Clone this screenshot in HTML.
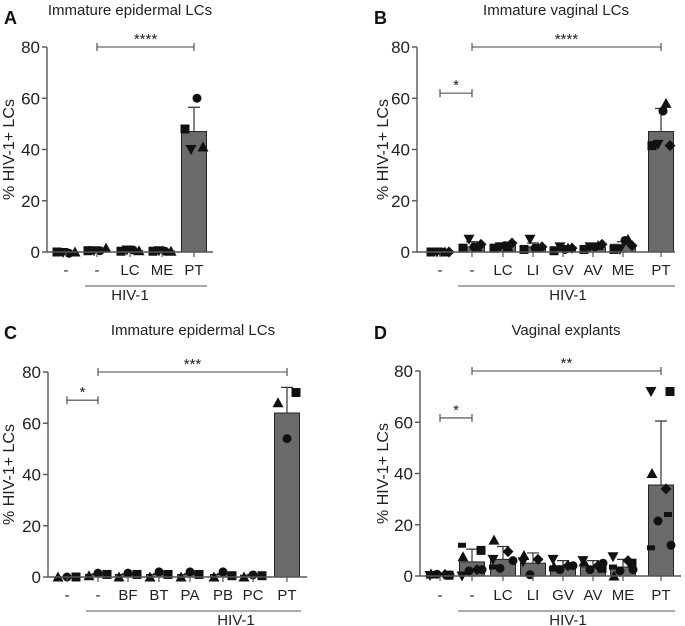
<!DOCTYPE html>
<html><head><meta charset="utf-8">
<style>
body{margin:0;background:#fff;}
svg{display:block;font-family:"Liberation Sans",Arial,sans-serif;}
</style></head>
<body>
<svg id="fig" width="685" height="626" viewBox="0 0 685 626" xmlns="http://www.w3.org/2000/svg"></svg>
<script>
// ---------- data ----------
const catsA = ["-","-","LC","ME","PT"];
const meanA = [0,0.8,0.5,0.4,47];
const errA  = [0,1.2,0.8,0.5,56.5];
const ptsA_square = [0,0.5,0.3,0.3,48];
const ptsA_down   = [-0.2,0.5,0.8,0.5,40];
const ptsA_up     = [0,1.5,0.5,0.3,41];
const ptsA_circle = [-0.5,0.5,0.8,0.3,60];

const catsB = ["-","-","LC","LI","GV","AV","ME","PT"];
const meanB = [0,2,2.5,2,1,1.8,3,47];
const errB  = [0,4,3.5,3.5,2.5,2.5,4,56];
const ptsB_square  = [0,1.5,1.5,1,0.5,1,1,41.5];
const ptsB_down    = [0,5,2,5,2,2,1,42];
const ptsB_circle  = [0,2,2.5,1.5,1,2,4.5,55];
const ptsB_diamond = [0,3,3.5,2,1.5,3,2.5,41.5];
const ptsB_up      = [0,2,2,1.5,1.5,2.5,5,58];

const catsC = ["-","-","BF","BT","PA","PB","PC","PT"];
const meanC = [0,1,1,1,1,1,0.7,64];
const errC  = [0,1.3,1.3,1.3,1.3,1.3,1,74];
const ptsC_up     = [0,0.5,0,0,0,0,0,68];
const ptsC_circle = [0,1.5,1.5,2,2,2,0.8,54];
const ptsC_square = [0,1,1,1,1,0.5,0.5,72];

const catsD = ["-","-","LC","LI","GV","AV","ME","PT"];
const meanD = [0.5,5.5,6.5,5,4,3.5,3.5,35.5];
const errD  = [1,10.5,11.5,9,6,6,6.5,60.5];
const ptsD_down    = [0.2,0,6.5,5.5,6.5,6,7.5,72];
const ptsD_up      = [0.8,7.5,14,8,3.5,5.5,0,40];
const ptsD_rect    = [0.5,12,3.5,null,3,null,3.5,11];
const ptsD_circle  = [0.7,2,3,0.5,2.5,2.5,2,21.5];
const ptsD_square  = [0.3,10,null,null,null,3,5,72];
const ptsD_diamond = [0.6,2.5,9.5,6.5,4,4,6,34];
const ptsD_circle2 = [0.4,2.5,6,null,4,5,2.5,12];
const ptsD_rect2   = [null,null,null,null,null,null,null,24];

const yTicks = [0,20,40,60,80];

// ---------- drawing ----------
const NS="http://www.w3.org/2000/svg";
const svg=document.getElementById('fig');
function mk(tag,attrs,parent){const e=document.createElementNS(NS,tag);for(const k in attrs)e.setAttribute(k,attrs[k]);(parent||svg).appendChild(e);return e;}
function txt(s,attrs,parent){const e=mk('text',attrs,parent);e.textContent=s;return e;}

function marker(g,shape,cx,cy){
  const r=4.5;let e;
  if(shape==='circle'){e=mk('circle',{cx:cx,cy:cy,r:r,fill:'#111'},g);}
  else if(shape==='square'){e=mk('rect',{x:cx-r,y:cy-r,width:2*r,height:2*r,fill:'#111'},g);}
  else if(shape==='rect'){e=mk('rect',{x:cx-4,y:cy-2.5,width:8,height:5,fill:'#111'},g);}
  else if(shape==='up'){e=mk('polygon',{points:`${cx},${cy-r-1} ${cx-r-1},${cy+r} ${cx+r+1},${cy+r}`,fill:'#111'},g);}
  else if(shape==='down'){e=mk('polygon',{points:`${cx},${cy+r+1} ${cx-r-1},${cy-r} ${cx+r+1},${cy-r}`,fill:'#111'},g);}
  else {e=mk('polygon',{points:`${cx},${cy-r-1} ${cx+r+1},${cy} ${cx},${cy+r+1} ${cx-r-1},${cy}`,fill:'#111'},g);}
  
  
}

function panel(p){
  const g=mk('g',{});
  
  
  const y=v=>p.y0-(v/80)*(p.y0-p.y80);
  const x=i=>p.xs[i];
  const l=txt(p.letter,{x:p.lx,y:p.ly,'font-size':18,'font-weight':'bold',fill:'#111'},g);
  
  const t=txt(p.title,{x:p.tx,y:p.ty,'font-size':15,'text-anchor':'middle',fill:'#222'},g);
  
  p.means.forEach((m,i)=>{
    const h=Math.max(y(0)-y(m),0.5);
    const b=mk('rect',{x:x(i)-p.bw/2,y:y(m),width:p.bw,height:h,fill:'#6b6b6b',stroke:'#222','stroke-width':1},g);
    
    if(p.errs[i]>m){
      const e=mk('path',{d:`M${x(i)},${y(m)}V${y(p.errs[i])}M${x(i)-6},${y(p.errs[i])}H${x(i)+6}`,stroke:'#333','stroke-width':1.2,fill:'none'},g);
      
    }
  });
  p.series.forEach(s=>{
    s.vals.forEach((v,i)=>{ if(v!==null) marker(g,s.shape,x(i)+s.dx,y(v)); });
  });
  const ax=mk('path',{d:`M${p.ax},${y(80)}V${y(0)}H${p.axEnd}`,stroke:'#555','stroke-width':1.4,fill:'none'},g);
  
  yTicks.forEach(v=>{
    mk('line',{x1:p.ax-5,x2:p.ax,y1:y(v),y2:y(v),stroke:'#555','stroke-width':1.4},g);
    const tl=txt(String(v),{x:p.ax-7,y:y(v)+6,'font-size':17,'text-anchor':'end',fill:'#222'},g);
    
  });
  p.cats.forEach((c,i)=>{
    mk('line',{x1:x(i),x2:x(i),y1:y(0),y2:y(0)+5,stroke:'#555','stroke-width':1.2},g);
    const cl=txt(c,{x:x(i),y:p.labY,'font-size':15,'text-anchor':'middle',fill:'#222'},g);
    
  });
  const yl=txt('% HIV-1+ LCs',{x:0,y:0,'font-size':16,'text-anchor':'middle',fill:'#222',transform:`translate(${p.ylx},${(y(0)+y(80))/2}) rotate(-90)`},g);
  
  const hl=mk('line',{x1:p.hx1,x2:p.hx2,y1:p.labY+11,y2:p.labY+11,stroke:'#555','stroke-width':1},g);
  
  const ht=txt('HIV-1',{x:p.htx,y:p.labY+25,'font-size':15,'text-anchor':'middle',fill:'#222'},g);
  
  p.sig.forEach(s=>{
    const yy=y(s.v),x1=x(s.a),x2=x(s.b);
    const br=mk('path',{d:`M${x1},${yy-4}V${yy+4}M${x1},${yy}H${x2}M${x2},${yy-4}V${yy+4}`,stroke:'#444','stroke-width':1.1,fill:'none'},g);
    
    const st=txt(s.t,{x:(x1+x2)/2,y:yy-3,'font-size':15,'text-anchor':'middle',fill:'#222'},g);
    
  });
}

panel({letter:'A',lx:4,ly:24,title:'Immature epidermal LCs',tx:130,ty:15,
  cats:catsA,means:meanA,errs:errA,xs:[66,97,130,162,194],bw:25,
  y0:252,y80:47,ax:47,axEnd:213,labY:275,ylx:14,hx1:85,hx2:207,htx:130,
  series:[{shape:'square',dx:-9,vals:ptsA_square},{shape:'down',dx:-3,vals:ptsA_down},{shape:'up',dx:9,vals:ptsA_up},{shape:'circle',dx:3,vals:ptsA_circle}],
  sig:[{a:1,b:4,v:80,t:'****'}]});

panel({letter:'B',lx:374,ly:24,title:'Immature vaginal LCs',tx:556,ty:15,
  cats:catsB,means:meanB,errs:errB,xs:[440,472,503,533,563,593,623,661],bw:25,
  y0:252,y80:47,ax:417,axEnd:675,labY:275,ylx:388,hx1:458,hx2:675,htx:568,
  series:[{shape:'square',dx:-9,vals:ptsB_square},{shape:'down',dx:-3,vals:ptsB_down},{shape:'circle',dx:2,vals:ptsB_circle},{shape:'diamond',dx:9,vals:ptsB_diamond},{shape:'up',dx:5,vals:ptsB_up}],
  sig:[{a:0,b:1,v:62,t:'*'},{a:1,b:7,v:80,t:'****'}]});

panel({letter:'C',lx:4,ly:339,title:'Immature epidermal LCs',tx:193,ty:335,
  cats:catsC,means:meanC,errs:errC,xs:[67,98,128,159,190,223,253,287],bw:25,
  y0:577,y80:372,ax:48,axEnd:307,labY:600,ylx:14,hx1:86,hx2:301,htx:236,
  series:[{shape:'up',dx:-9,vals:ptsC_up},{shape:'circle',dx:0,vals:ptsC_circle},{shape:'square',dx:9,vals:ptsC_square}],
  sig:[{a:0,b:1,v:69,t:'*'},{a:1,b:7,v:80,t:'***'}]});

panel({letter:'D',lx:374,ly:339,title:'Vaginal explants',tx:566,ty:335,
  cats:catsD,means:meanD,errs:errD,xs:[440,472,503,533,563,593,623,661],bw:25,
  y0:576,y80:371,ax:420,axEnd:681,labY:600,ylx:388,hx1:458,hx2:675,htx:568,
  series:[{shape:'down',dx:-10,vals:ptsD_down},{shape:'up',dx:-9,vals:ptsD_up},{shape:'rect',dx:-10,vals:ptsD_rect},{shape:'circle',dx:-3,vals:ptsD_circle},{shape:'square',dx:9,vals:ptsD_square},{shape:'diamond',dx:5,vals:ptsD_diamond},{shape:'circle',dx:10,vals:ptsD_circle2},{shape:'rect',dx:7,vals:ptsD_rect2}],
  sig:[{a:0,b:1,v:61.7,t:'*'},{a:1,b:7,v:80,t:'**'}]});
</script>
</body></html>
